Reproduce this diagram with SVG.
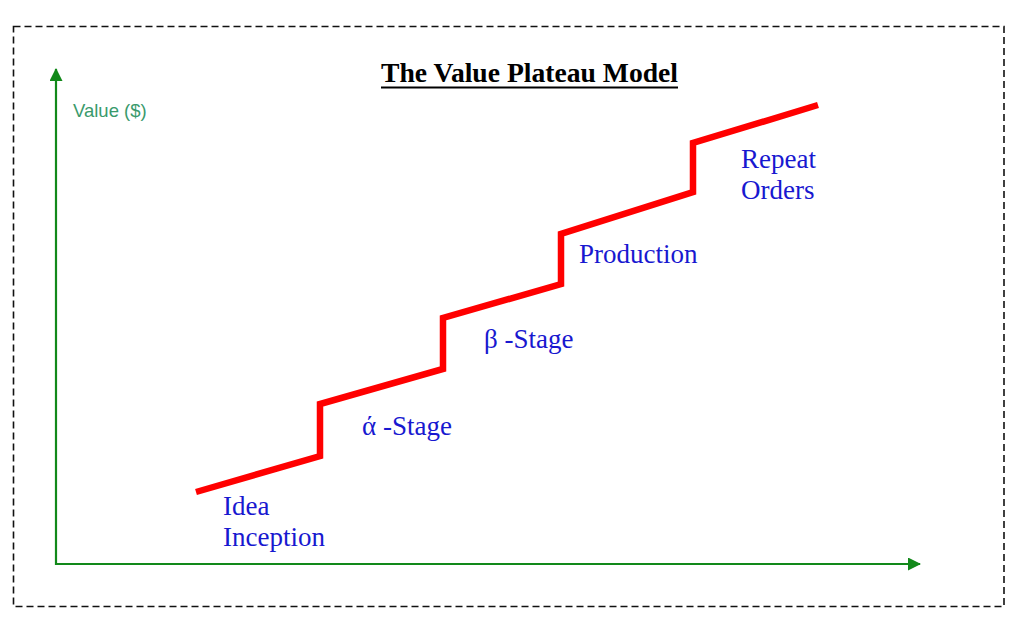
<svg xmlns="http://www.w3.org/2000/svg" width="1024" height="625" viewBox="0 0 1024 625">
  <style>
    .lbl { font-family: "Liberation Serif", "Times New Roman", serif; font-size: 27px; fill: #1818d0; }
    .title { font-family: "Liberation Serif", "Times New Roman", serif; font-size: 27px; font-weight: bold; fill: #000; }
    .axis { stroke: #12891a; stroke-width: 2.2; fill: none; }
    .ylabel { font-family: "Liberation Sans", Arial, sans-serif; font-size: 18.5px; fill: #3a9a6c; }
  </style>
  <defs>
    <marker id="arrow" viewBox="0 0 13 13" refX="12" refY="6.5" markerWidth="13" markerHeight="13" markerUnits="userSpaceOnUse" orient="auto">
      <path d="M0,0 L13,6.5 L0,13 Z" fill="#12891a"/>
    </marker>
  </defs>
  <rect x="0" y="0" width="1024" height="625" fill="#ffffff"/>
  <rect id="frame" x="13.5" y="26.5" width="990.5" height="580" fill="none" stroke="#111" stroke-width="1.6" stroke-dasharray="7,4"/>

  <g id="title">
    <text class="title" x="381" y="82" textLength="297" lengthAdjust="spacingAndGlyphs">The Value Plateau Model</text>
    <line x1="381" y1="87.5" x2="678" y2="87.5" stroke="#000" stroke-width="2"/>
  </g>

  <g id="connectors">
    <line class="axis" x1="56" y1="565" x2="56" y2="69" marker-end="url(#arrow)"/>
    <line class="axis" x1="55" y1="564" x2="920" y2="564" marker-end="url(#arrow)"/>
  </g>

  <g id="y-label">
    <text class="ylabel" x="73" y="117">Value ($)</text>
  </g>

  <g id="plateau-line">
    <polyline points="196,492 320,456 320,404 443,369 443,318 561,284 561,234 693,192 693,143 818,105" fill="none" stroke="#ff0000" stroke-width="6.5" stroke-linejoin="miter"/>
  </g>

  <g id="idea-inception">
    <text class="lbl" x="223" y="515">Idea</text>
    <text class="lbl" x="223" y="546">Inception</text>
  </g>
  <g id="alpha-stage">
    <text class="lbl" x="362" y="435">ά -Stage</text>
  </g>
  <g id="beta-stage">
    <text class="lbl" x="484" y="348">β -Stage</text>
  </g>
  <g id="production">
    <text class="lbl" x="579" y="263">Production</text>
  </g>
  <g id="repeat-orders">
    <text class="lbl" x="741" y="168">Repeat</text>
    <text class="lbl" x="741" y="199">Orders</text>
  </g>
</svg>
